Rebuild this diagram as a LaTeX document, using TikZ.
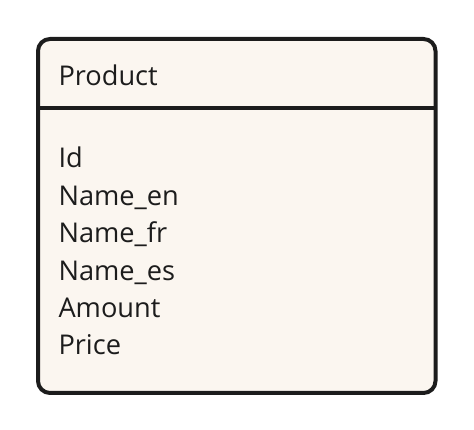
\documentclass[tikz,border=0pt]{standalone}
\usepackage{fontspec}
\setmainfont{Open Sans}
\usetikzlibrary{positioning}

\definecolor{boxfill}{HTML}{FBF6F0}
\definecolor{boxline}{HTML}{1C1C1C}

\begin{document}
\begin{tikzpicture}[x=1pt,y=1pt,node distance=37.4pt,on grid,
    field/.style={inner sep=0pt,text width=200pt,align=left,
        text height=19pt,text depth=6pt,text=boxline,
        font=\fontsize{27.2}{32}\selectfont}]
    \useasboundingbox (0,0) rectangle (474,430);
    % box with header bar
    \draw[boxline,fill=boxfill,line width=4pt,rounded corners=12pt]
        (38,37) rectangle (435.5,391);
    \coordinate (divl) at (38,322);
    \coordinate (divr) at (435.5,322);
    \draw[boxline,line width=3.5pt] (divl) -- (divr);

    % \node[style] (identifier) [placement] {display};
    \node[field] (title) at (158.5,350.5) {Product};
    \node[field] (id) at (158.5,268.5) {Id};
    \node[field] (nameen) [below=of id] {Name\_en};
    \node[field] (namefr) [below=of nameen] {Name\_fr};
    \node[field] (namees) [below=of namefr] {Name\_es};
    \node[field] (amount) [below=of namees] {Amount};
    \node[field] (price) [below=of amount] {Price};
\end{tikzpicture}
\end{document}
